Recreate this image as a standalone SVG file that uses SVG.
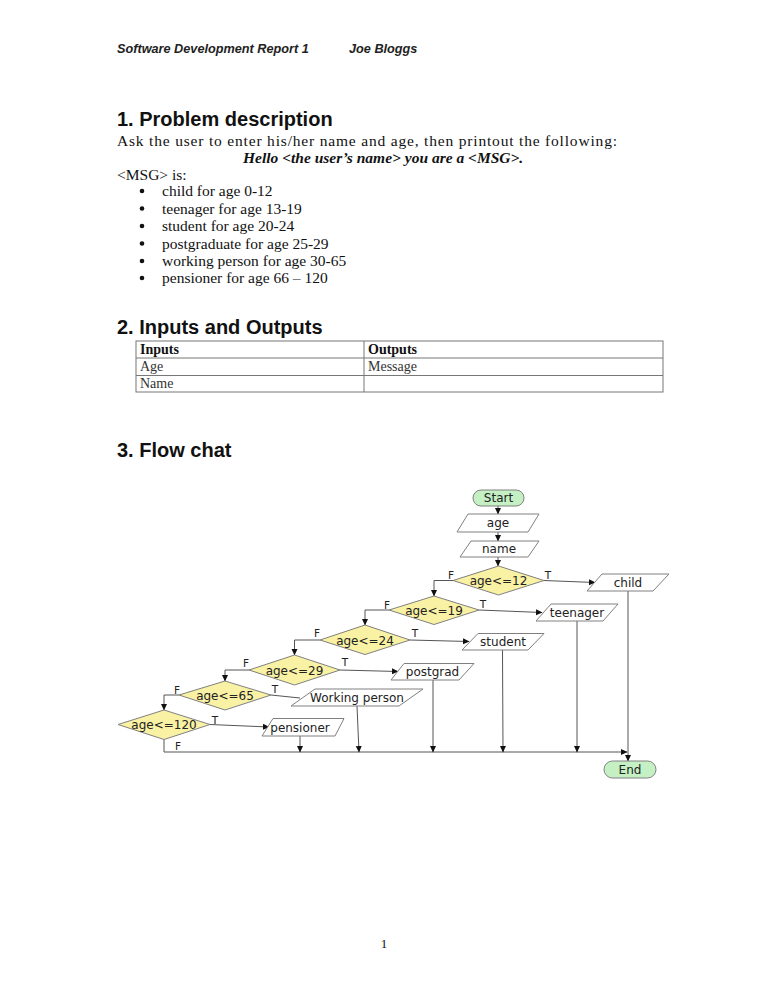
<svg xmlns="http://www.w3.org/2000/svg" width="768" height="994" viewBox="0 0 768 994">
<style>
.hdr{font-family:"Liberation Sans",Arial,sans-serif;font-weight:bold;font-style:italic;font-size:12.7px;fill:#222}
.h1{font-family:"Liberation Sans",Arial,sans-serif;font-weight:bold;font-size:20px;fill:#111}
.body{font-family:"Liberation Serif","Times New Roman",serif;font-size:15.5px;fill:#111}
.tbl{font-family:"Liberation Serif","Times New Roman",serif;font-size:14px;fill:#333}
.tblb{font-family:"Liberation Serif","Times New Roman",serif;font-size:14px;font-weight:bold;fill:#111}
.fc{font-family:"DejaVu Sans",Verdana,sans-serif;font-size:12px;fill:#222;text-anchor:middle}
.lb{font-family:"DejaVu Sans",Verdana,sans-serif;font-size:10.5px;fill:#222;text-anchor:middle}
.dia{fill:#f9f1a3;stroke:#808080;stroke-width:1}
.io{fill:#fff;stroke:#808080;stroke-width:1}
.term{fill:#c4f0c4;stroke:#808080;stroke-width:1}
.cn{fill:none;stroke:#555;stroke-width:1}
.grid{fill:none;stroke:#777;stroke-width:1}
</style>
<defs>
<marker id="ah" markerWidth="7" markerHeight="7" refX="6" refY="3.5" orient="auto" markerUnits="userSpaceOnUse">
<path d="M0,0.5 L6.5,3.5 L0,6.5 Z" fill="#111"/>
</marker>
</defs>
<rect width="768" height="994" fill="#fff"/>

<g id="header">
<text class="hdr" x="117" y="53">Software Development Report 1</text>
<text class="hdr" x="349" y="53">Joe Bloggs</text>
</g>

<g id="section1">
<text class="h1" x="117" y="126">1. Problem description</text>
<text class="body" x="117" y="146" textLength="500" lengthAdjust="spacing">Ask the user to enter his/her name and age, then printout the following:</text>
<text class="body" x="243" y="163" font-weight="bold" font-style="italic">Hello &lt;the user’s name&gt; you are a &lt;MSG&gt;.</text>
<text class="body" x="117" y="180">&lt;MSG&gt; is:</text>
<g fill="#111">
<circle cx="142" cy="191" r="2.3"/>
<circle cx="142" cy="208.5" r="2.3"/>
<circle cx="142" cy="226" r="2.3"/>
<circle cx="142" cy="243.5" r="2.3"/>
<circle cx="142" cy="261" r="2.3"/>
<circle cx="142" cy="278" r="2.3"/>
</g>
<text class="body" x="162" y="196">child for age 0-12</text>
<text class="body" x="162" y="213.5">teenager for age 13-19</text>
<text class="body" x="162" y="231">student for age 20-24</text>
<text class="body" x="162" y="248.5">postgraduate for age 25-29</text>
<text class="body" x="162" y="266">working person for age 30-65</text>
<text class="body" x="162" y="283">pensioner for age 66 – 120</text>
</g>

<g id="section2">
<text class="h1" x="117" y="334">2. Inputs and Outputs</text>
<rect class="grid" x="136" y="341" width="527" height="51"/>
<line class="grid" x1="136" y1="358" x2="663" y2="358"/>
<line class="grid" x1="136" y1="375.5" x2="663" y2="375.5"/>
<line class="grid" x1="364" y1="341" x2="364" y2="392"/>
<text class="tblb" x="140" y="354">Inputs</text>
<text class="tblb" x="368" y="354">Outputs</text>
<text class="tbl" x="140" y="371">Age</text>
<text class="tbl" x="368" y="371">Message</text>
<text class="tbl" x="140" y="388">Name</text>
</g>

<g id="section3">
<text class="h1" x="117" y="457">3. Flow chat</text>
</g>

<g id="connectors">
<line class="cn" x1="498" y1="506" x2="498" y2="514" marker-end="url(#ah)"/>
<line class="cn" x1="498" y1="532" x2="498" y2="541" marker-end="url(#ah)"/>
<line class="cn" x1="498" y1="557" x2="498" y2="566" marker-end="url(#ah)"/>
<line class="cn" x1="544" y1="580.5" x2="595" y2="582.5" marker-end="url(#ah)"/>
<polyline class="cn" points="453,580.5 434,580.5 434,596" marker-end="url(#ah)"/>
<line class="cn" x1="479" y1="610" x2="542" y2="612.5" marker-end="url(#ah)"/>
<polyline class="cn" points="389,610 365,610 365,625" marker-end="url(#ah)"/>
<line class="cn" x1="410" y1="640" x2="469" y2="641.5" marker-end="url(#ah)"/>
<polyline class="cn" points="320,640 294.5,640 294.5,655" marker-end="url(#ah)"/>
<line class="cn" x1="340" y1="670" x2="398" y2="671.5" marker-end="url(#ah)"/>
<polyline class="cn" points="249,670 225,670 225,681" marker-end="url(#ah)"/>
<line class="cn" x1="271" y1="695" x2="300" y2="698"/>
<polyline class="cn" points="179,695 164,695 164,710" marker-end="url(#ah)"/>
<line class="cn" x1="210" y1="724.5" x2="269" y2="727" marker-end="url(#ah)"/>
<polyline class="cn" points="164,739.5 164,752 627,752" marker-end="url(#ah)"/>
<line class="cn" x1="300" y1="736" x2="300" y2="752" marker-end="url(#ah)"/>
<line class="cn" x1="357" y1="706" x2="359" y2="752" marker-end="url(#ah)"/>
<line class="cn" x1="433" y1="680" x2="433" y2="752" marker-end="url(#ah)"/>
<line class="cn" x1="502.5" y1="650" x2="503" y2="752" marker-end="url(#ah)"/>
<line class="cn" x1="577" y1="621" x2="577" y2="752" marker-end="url(#ah)"/>
<line class="cn" x1="628" y1="591" x2="628" y2="761" marker-end="url(#ah)"/>
<text class="lb" x="451" y="579">F</text>
<text class="lb" x="548" y="579">T</text>
<text class="lb" x="387" y="609">F</text>
<text class="lb" x="483" y="608">T</text>
<text class="lb" x="317" y="637">F</text>
<text class="lb" x="415" y="637">T</text>
<text class="lb" x="246" y="667">F</text>
<text class="lb" x="345" y="666">T</text>
<text class="lb" x="177" y="694">F</text>
<text class="lb" x="275" y="693">T</text>
<text class="lb" x="215" y="724">T</text>
<text class="lb" x="178" y="750">F</text>
</g>

<g id="start">
<rect class="term" x="473" y="490" width="51" height="16" rx="8"/>
<text class="fc" x="498.5" y="502">Start</text>
</g>
<g id="input-age">
<polygon class="io" points="468,514 539,514 528,532 457,532"/>
<text class="fc" x="498" y="527">age</text>
</g>
<g id="input-name">
<polygon class="io" points="471,541 539,541 528,557 460,557"/>
<text class="fc" x="499" y="553">name</text>
</g>
<g id="d12">
<polygon class="dia" points="453,580.5 498.5,566 544,580.5 498.5,595"/>
<text class="fc" x="498.5" y="585">age&lt;=12</text>
</g>
<g id="d19">
<polygon class="dia" points="389,610 434,596 479,610 434,624.5"/>
<text class="fc" x="434" y="614.5">age&lt;=19</text>
</g>
<g id="d24">
<polygon class="dia" points="320,640 365,625 410,640 365,654.5"/>
<text class="fc" x="365" y="644.5">age&lt;=24</text>
</g>
<g id="d29">
<polygon class="dia" points="249,670 294.5,655 340,670 294.5,685"/>
<text class="fc" x="294.5" y="674.5">age&lt;=29</text>
</g>
<g id="d65">
<polygon class="dia" points="179,695 225,681 271,695 225,710"/>
<text class="fc" x="225" y="699.5">age&lt;=65</text>
</g>
<g id="d120">
<polygon class="dia" points="118,724.5 164,710 210,724.5 164,739.5"/>
<text class="fc" x="164" y="729">age&lt;=120</text>
</g>
<g id="child">
<polygon class="io" points="602,574 669,574 653,591 587,591"/>
<text class="fc" x="628" y="587">child</text>
</g>
<g id="teenager">
<polygon class="io" points="551,604 618,604 603,621 536,621"/>
<text class="fc" x="577" y="617">teenager</text>
</g>
<g id="student">
<polygon class="io" points="478,633.5 544,633.5 528,650 462,650"/>
<text class="fc" x="503" y="646">student</text>
</g>
<g id="postgrad">
<polygon class="io" points="404,663.5 474,663.5 459,680 391,680"/>
<text class="fc" x="432.5" y="676">postgrad</text>
</g>
<g id="working-person">
<polygon class="io" points="315,689 423,689 399,706 291,706"/>
<text class="fc" x="357" y="702">Working person</text>
</g>
<g id="pensioner">
<polygon class="io" points="273,718.5 344,718.5 335,736 262,736"/>
<text class="fc" x="300" y="731.5">pensioner</text>
</g>
<g id="end">
<rect class="term" x="604" y="761" width="52" height="17" rx="8.5"/>
<text class="fc" x="630" y="774">End</text>
</g>

<g id="footer">
<text x="384" y="948" text-anchor="middle" font-family="Liberation Serif, Times New Roman, serif" font-size="13" fill="#111">1</text>
</g>
</svg>
